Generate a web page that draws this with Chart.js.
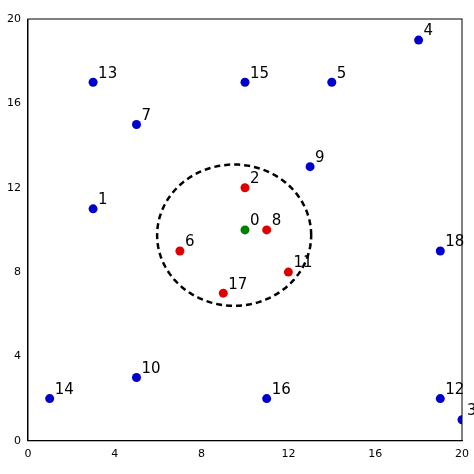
<!DOCTYPE html>
<html>
<head>
<script src="https://cdn.jsdelivr.net/npm/chart.js@4"></script>
<style>
  body { margin: 0; background: #fff; }
  #wrap { width: 474px; height: 474px; }
</style>
</head>
<body>
<div id="wrap"><canvas id="c"></canvas></div>
<script>
const ids   = [0, 1, 2, 3, 4, 5, 6, 7, 8, 9, 10, 11, 12, 13, 14, 15, 16, 17, 18];
const xs    = [10, 3, 10, 20, 18, 14, 7, 5, 11, 13, 5, 12, 19, 3, 1, 10, 11, 9, 19];
const ys    = [10, 11, 12, 1, 19, 17, 9, 15, 10, 13, 3, 8, 2, 17, 2, 17, 2, 7, 9];
const kinds = ["center", "out", "in", "out", "out", "out", "in", "out", "in", "out",
               "out", "in", "out", "out", "out", "out", "out", "in", "out"];
const kindColors = { center: "#008000", in: "#e00000", out: "#0000cc" };
const ticks = [0, 4, 8, 12, 16, 20];

// dashed ring drawn as a closed line
const ringCx = 9.5, ringCy = 9.75, ringRx = 3.55, ringRy = 3.35;
const ring = [];
for (let i = 0; i <= 120; i++) {
  const a = i / 120 * Math.PI * 2;
  ring.push({ x: ringCx + ringRx * Math.cos(a), y: ringCy + ringRy * Math.sin(a) });
}

const pts = ids.map((id, i) => ({ x: xs[i], y: ys[i] }));

const labelPlugin = {
  id: "labels",
  afterDatasetsDraw(chart) {
    const ctx = chart.ctx;
    const sx = chart.scales.x, sy = chart.scales.y;
    ctx.save();
    ctx.font = "15px 'DejaVu Sans'";
    ctx.fillStyle = "#000";
    ctx.textBaseline = "bottom";
    ids.forEach((id, i) => {
      ctx.fillText(String(id), sx.getPixelForValue(xs[i]) + 5, sy.getPixelForValue(ys[i]) - 1);
    });
    ctx.restore();
  }
};

new Chart(document.getElementById("c"), {
  type: "scatter",
  data: {
    datasets: [
      {
        type: "line",
        data: ring,
        borderColor: "#000",
        borderWidth: 2.5,
        borderDash: [6, 4],
        pointRadius: 0,
        fill: false,
        tension: 0
      },
      {
        data: pts,
        pointRadius: 4.5,
        pointBackgroundColor: kinds.map(k => kindColors[k]),
        pointBorderColor: kinds.map(k => kindColors[k]),
        pointBorderWidth: 0
      }
    ]
  },
  options: {
    responsive: true,
    maintainAspectRatio: false,
    animation: false,
    layout: { padding: { top: 19, right: 12, left: 4, bottom: 10 } },
    plugins: { legend: { display: false }, tooltip: { enabled: false } },
    scales: {
      x: {
        min: 0, max: 20,
        afterBuildTicks: axis => { axis.ticks = ticks.map(v => ({ value: v })); },
        grid: { display: false, drawTicks: true, tickLength: 4, tickColor: "#000" },
        border: { color: "#000", width: 1 },
        ticks: { color: "#000", font: { size: 11, family: "DejaVu Sans" }, maxRotation: 0 }
      },
      y: {
        min: 0, max: 20,
        afterBuildTicks: axis => { axis.ticks = ticks.map(v => ({ value: v })); },
        grid: { display: false, drawTicks: true, tickLength: 4, tickColor: "#000" },
        border: { color: "#000", width: 1 },
        ticks: { color: "#000", font: { size: 11, family: "DejaVu Sans" } }
      }
    }
  },
  plugins: [labelPlugin, {
    id: "box",
    afterDraw(chart) {
      const a = chart.chartArea, ctx = chart.ctx;
      ctx.save();
      ctx.strokeStyle = "#000";
      ctx.lineWidth = 1;
      ctx.strokeRect(a.left, a.top, a.right - a.left, a.bottom - a.top);
      ctx.restore();
    }
  }]
});
</script>
</body>
</html>
